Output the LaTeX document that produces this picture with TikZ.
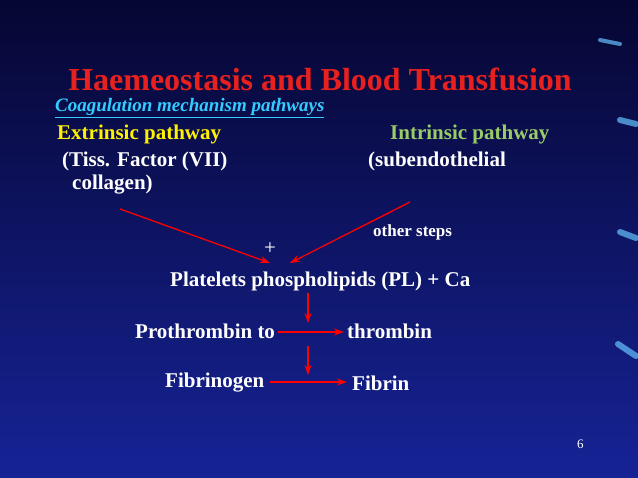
\documentclass[tikz,border=0pt]{standalone}
\usepackage{fontspec}
\setmainfont{Liberation Serif}
\usetikzlibrary{arrows.meta,calc}
\definecolor{titlered}{HTML}{E8201E}
\definecolor{cyanl}{HTML}{33CCFF}
\definecolor{greenl}{HTML}{99CC66}
\tikzset{
 txt/.style={anchor=west,inner sep=0pt,text=white,font=\bfseries\fontsize{21}{24}\selectfont},
 arr/.style={draw=red,line width=1.3pt,-{Stealth[length=10pt,width=7pt]}},
 deco/.style={line width=6pt,line cap=round,draw=blue!40!cyan!60!white,opacity=0.7}
}
\begin{document}
\begin{tikzpicture}[x=1pt,y=-1pt]
\useasboundingbox (0,0) rectangle (638,478);
\shade[top color={rgb,255:red,6;green,6;blue,50},bottom color={rgb,255:red,22;green,35;blue,150}] (0,0) rectangle (638,478);
\draw[deco] (620,120) -- (636,124);
\draw[deco] (620,232) -- (636,238);
\draw[deco] (618,344) -- (636,356);
\draw[deco,line width=4pt] (600,40) -- (620,44);
\node (title) [anchor=center,inner sep=0pt,text=titlered,font=\bfseries\fontsize{32}{34}\selectfont] at (320,79) {Haemeostasis and Blood Transfusion};
\node (coag) [txt,text=cyanl,font=\bfseries\itshape\fontsize{19}{22}\selectfont] at (55,108) {\underline{Coagulation mechanism pathways}};
\node (ext) [txt,text=yellow] at (57,134) {Extrinsic pathway};
\node (int) [txt,text=greenl] at (390,134) {Intrinsic pathway};
\node (tiss) [txt] at (62,161) {(Tiss. Factor (VII)};
\node (sub) [txt] at (368,161) {(subendothelial};
\node (col) [txt] at (72,185) {collagen)};
\node (other) [txt,font=\bfseries\fontsize{17}{19}\selectfont] at (373,232) {other steps};
\node (plus) [txt,font=\fontsize{21}{24}\selectfont] at (264,249) {+};
\node (pl) [txt] at (170,281) {Platelets phospholipids (PL) + Ca};
\node (pro) [txt] at (135,331) {Prothrombin to};
\node (thr) [txt] at (347,331) {thrombin};
\node (fbg) [txt] at (165,383) {Fibrinogen};
\node (fib) [txt] at (352,383) {Fibrin};
\node (num) [txt,font=\fontsize{13}{15}\selectfont] at (577,444) {6};
\coordinate (a1) at (120,209);
\coordinate (a2) at (410,202);
\coordinate (m) at (270,263);
\coordinate (m2) at (290,263);
\draw[arr] (a1) -- (m);
\draw[arr] (a2) -- (m2);
\draw[arr] (308,293) -- (308,323);
\draw[arr] ($(pro.east)+(3,1)$) -- ($(thr.west)+(-3,1)$);
\draw[arr] (308,346) -- (308,375);
\draw[arr] ($(fbg.east)+(5,-1)$) -- ($(fib.west)+(-5,-1)$);
\end{tikzpicture}
\end{document}
